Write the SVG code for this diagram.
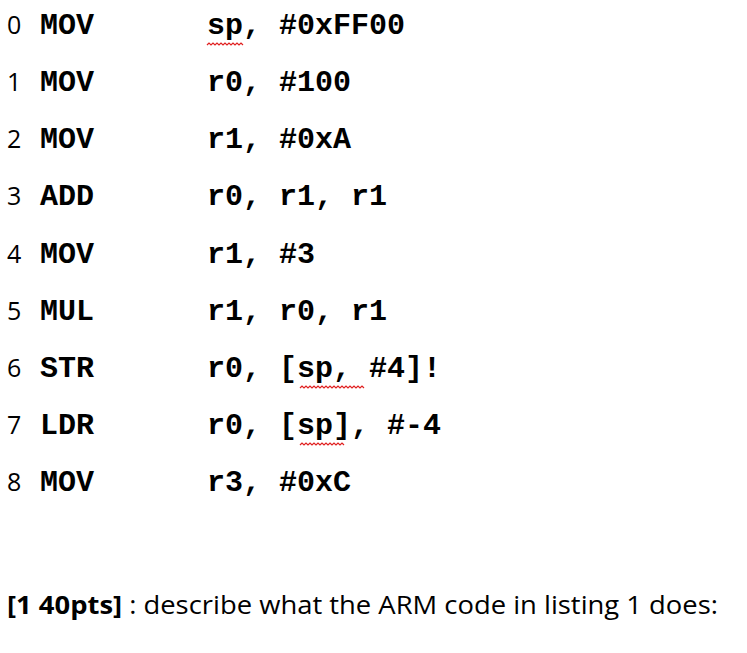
<svg xmlns="http://www.w3.org/2000/svg" width="747" height="653" viewBox="0 0 747 653">
<style>
.n{font-family:"Open Sans","Liberation Sans",sans-serif;font-size:25px;fill:#000}
.c{font-family:"Liberation Mono","Courier New",monospace;font-size:30px;font-weight:bold;fill:#000}
.s{fill:none;stroke:#e02020;stroke-width:1.2}
</style>
<rect width="747" height="653" fill="#fff"/>
<g id="listing">
<text x="7" y="34" class="n">0</text><text x="40" y="34" class="c">MOV</text><text x="207" y="34" class="c">sp, #0xFF00</text>
<text x="7" y="91" class="n">1</text><text x="40" y="91" class="c">MOV</text><text x="207" y="91" class="c">r0, #100</text>
<text x="7" y="148" class="n">2</text><text x="40" y="148" class="c">MOV</text><text x="207" y="148" class="c">r1, #0xA</text>
<text x="7" y="205" class="n">3</text><text x="40" y="205" class="c">ADD</text><text x="207" y="205" class="c">r0, r1, r1</text>
<text x="7" y="263" class="n">4</text><text x="40" y="263" class="c">MOV</text><text x="207" y="263" class="c">r1, #3</text>
<text x="7" y="320" class="n">5</text><text x="40" y="320" class="c">MUL</text><text x="207" y="320" class="c">r1, r0, r1</text>
<text x="7" y="377" class="n">6</text><text x="40" y="377" class="c">STR</text><text x="207" y="377" class="c">r0, [sp, #4]!</text>
<text x="7" y="434" class="n">7</text><text x="40" y="434" class="c">LDR</text><text x="207" y="434" class="c">r0, [sp], #-4</text>
<text x="7" y="491" class="n">8</text><text x="40" y="491" class="c">MOV</text><text x="207" y="491" class="c">r3, #0xC</text>
</g>
<g id="squiggles">
<path class="s" d="M207 45 l2 -2 l2 2 l2 -2 l2 2 l2 -2 l2 2 l2 -2 l2 2 l2 -2 l2 2 l2 -2 l2 2 l2 -2 l2 2 l2 -2 l2 2 l2 -2 l2 2"/>
<path class="s" d="M300 388 l2 -2 l2 2 l2 -2 l2 2 l2 -2 l2 2 l2 -2 l2 2 l2 -2 l2 2 l2 -2 l2 2 l2 -2 l2 2 l2 -2 l2 2 l2 -2 l2 2 l2 -2 l2 2 l2 -2 l2 2 l2 -2 l2 2 l2 -2 l2 2 l2 -2 l2 2 l2 -2 l2 2 l2 -2 l2 2"/>
<path class="s" d="M300 445 l2 -2 l2 2 l2 -2 l2 2 l2 -2 l2 2 l2 -2 l2 2 l2 -2 l2 2 l2 -2 l2 2 l2 -2 l2 2 l2 -2 l2 2 l2 -2 l2 2 l2 -2 l2 2 l2 -2 l2 2"/>
</g>
<text x="7" y="614" class="n" font-size="25" textLength="711" lengthAdjust="spacingAndGlyphs"><tspan font-weight="bold">[1  40pts]</tspan> : describe what the ARM code in listing 1 does:</text>
</svg>
